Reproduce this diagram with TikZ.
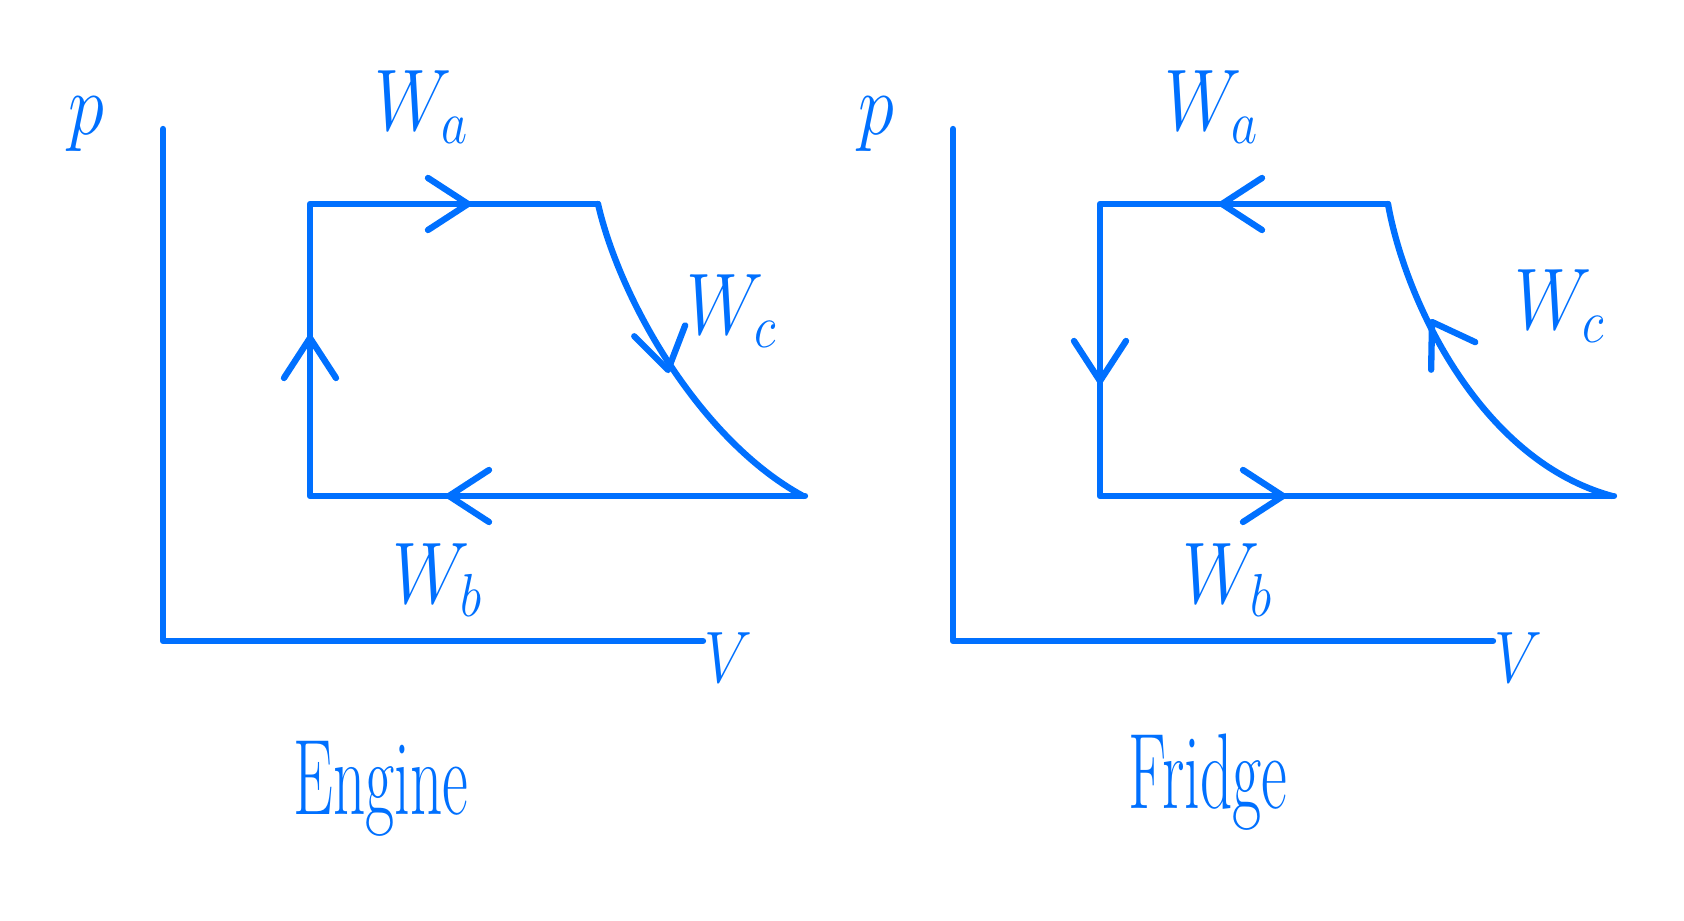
\documentclass[tikz,border=0pt]{standalone}
\definecolor{pen}{RGB}{0,112,255}
\newcommand{\chev}[2]{\draw[shift={#1}, rotate=#2] (-40,-26) -- (0,0) -- (-40,26);}
\newcommand{\tall}[2]{\scalebox{1}[#1]{#2}}

\begin{document}
\begin{tikzpicture}[x=0.1mm, y=-0.1mm, line width=1.8pt, line cap=round, line join=round, pen,
    lbl/.style={inner sep=0pt, font=\fontsize{22}{26}\selectfont},
    cyclename/.style={inner sep=0pt, font=\fontsize{18}{22}\selectfont}]
  \useasboundingbox (0,0) rectangle (1684,921);

  % Axes, labels and straight sides, once per cycle
  \foreach \dx/\n/\bx in {0/E/805, 790/F/1614} {
    \draw (163+\dx,129) -- (163+\dx,641) -- (703+\dx,641);
    \node[lbl] (p\n) at (86+\dx,124) {\tall{1.2}{$p$}};
    \node[lbl, font=\fontsize{19}{22}\selectfont] (V\n) at (728+\dx,658) {\tall{1.2}{$V$}};
    \node[lbl] (Wa\n) at (422+\dx,107) {\tall{1.2}{$W_a$}};
    \node[lbl] (Wb\n) at (438+\dx,580) {\tall{1.2}{$W_b$}};
    \draw (598+\dx,204) -- (310+\dx,204) -- (310+\dx,496) -- (\bx,496);
  }

  % Curved sides
  \draw (598,204) .. controls (620,300) and (700,440) .. (803,496);
  \draw (1388,204) .. controls (1405,300) and (1480,460) .. (1612,496);
  \node[lbl] (WcE) at (732,311) {\tall{1.2}{$W_c$}};
  \node[lbl] (WcF) at (1560,306) {\tall{1.2}{$W_c$}};

  % Direction marks: engine runs clockwise, fridge the other way
  \chev{(468,204)}{0}
  \chev{(310,338)}{90}
  \chev{(449,496)}{180}
  \chev{(668,370)}{-78}
  \chev{(1222,204)}{180}
  \chev{(1100,381)}{-90}
  \chev{(1283,496)}{0}
  \chev{(1432,322)}{122}

  \node[cyclename] (engine) at (381,789) {\tall{1.7}{Engine}};
  \node[cyclename] (fridge) at (1208,782) {\tall{1.7}{Fridge}};
\end{tikzpicture}
\end{document}
